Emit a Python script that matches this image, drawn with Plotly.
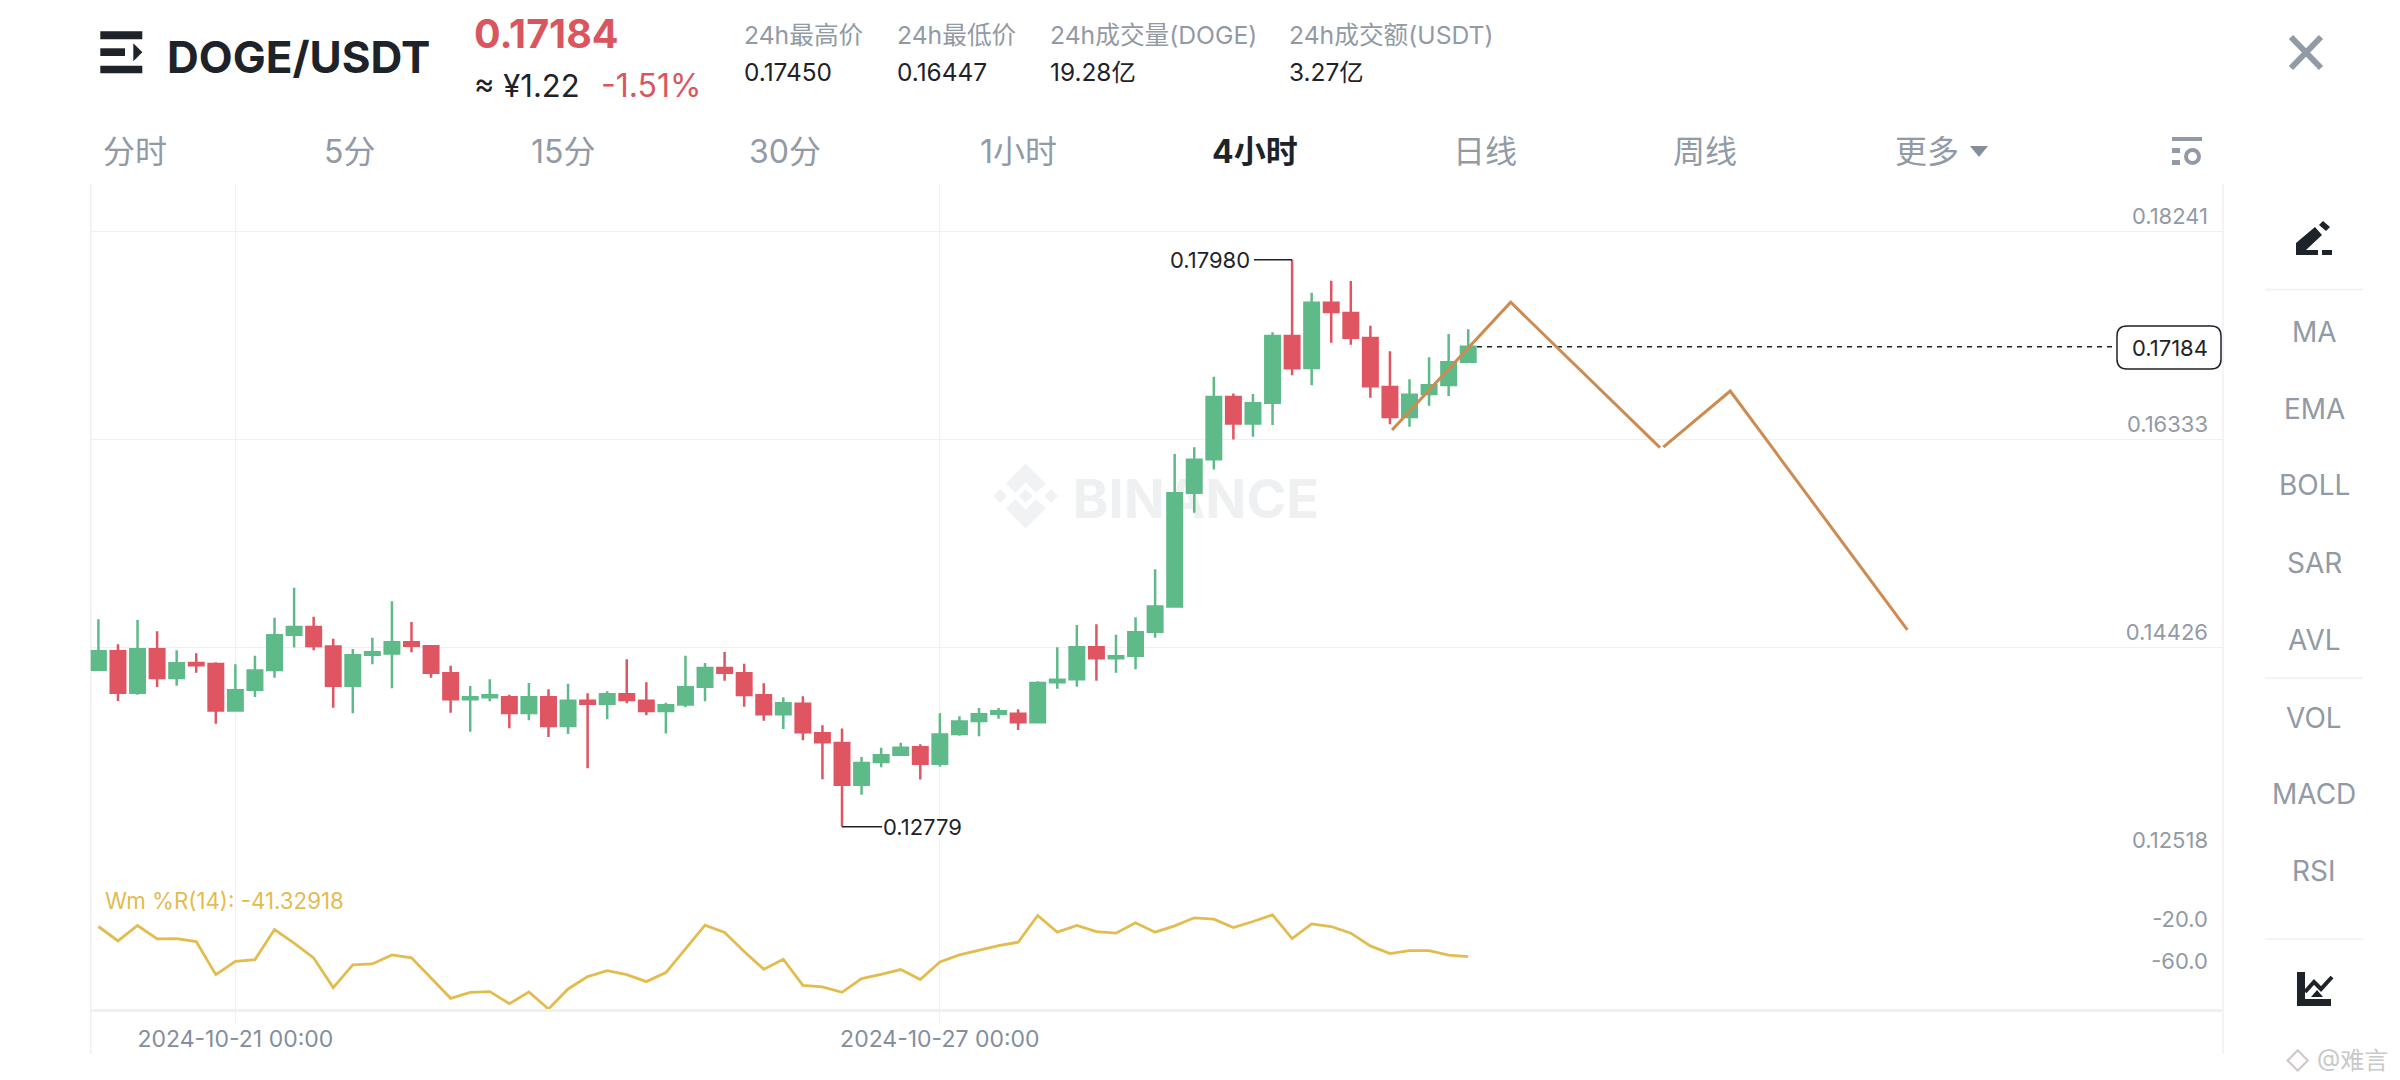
import pandas as pd
import plotly.graph_objects as go

W, H = 2400, 1080
FONT = "Inter, 'Noto Sans CJK SC', sans-serif"
INK = "#1E2329"
GREY = "#929AA5"
RED = "#E05562"
GREEN = "#5EBA89"
GRID = "#EEF0F2"
ORANGE = "#CD8B52"
GOLD = "#E2BC4E"

# ---- data ----
start_time = "2024-10-19 20:00"
opens = [.14221,.14389,.14010,.14407,.14144,.14282,.14273,.13845,.14037,.14218,
         .14542,.14612,.14432,.14074,.14358,.14368,.14472,.14435,.14187,.13949,
         .13967,.13967,.13823,.13967,.13704,.13936,.13909,.13995,.13936,.13842,
         .13900,.14065,.14236,.14187,.13985,.13811,.13909,.13637,.13548,.13166,
         .13374,.13441,.13508,.13358,.13631,.13750,.13817,.13817,.13738,.14105,
         .14132,.14426,.14325,.14349,.14569,.14799,.15844,.16150,.16722,.16480,
         .16670,.17281,.16988,.17587,.17492,.17263,.16814,.16538,.16749,.16832,.17046]
highs = [.14682,.14453,.14676,.14572,.14398,.14371,.14288,.14270,.14349,.14698,
         .14973,.14707,.14505,.14410,.14514,.14848,.14658,.14447,.14257,.14071,
         .14132,.13991,.14098,.14040,.14092,.14004,.14022,.14316,.14105,.13918,
         .14349,.14282,.14383,.14276,.14095,.13967,.13976,.13710,.13680,.13420,
         .13505,.13551,.13536,.13820,.13793,.13869,.13869,.13857,.14114,.14426,
         .14631,.14637,.14542,.14701,.15141,.16199,.16260,.16908,.16755,.16749,
         .17315,.17980,.17679,.17789,.17786,.17376,.17141,.16884,.17086,.17300,.17344]
lows = [.14212,.13933,.13991,.14062,.14074,.14193,.13725,.13835,.13970,.14147,
        .14423,.14398,.13872,.13820,.14270,.14050,.14380,.14147,.13826,.13652,
        .13930,.13683,.13756,.13603,.13631,.13316,.13765,.13912,.13802,.13634,
        .13875,.13930,.14120,.13881,.13753,.13677,.13573,.13215,.12779,.13074,
        .13325,.13435,.13212,.13331,.13615,.13609,.13771,.13667,.13738,.14046,
        .14065,.14120,.14193,.14224,.14514,.14790,.15661,.16058,.16333,.16358,
        .16465,.16921,.16829,.17220,.17202,.16716,.16471,.16450,.16642,.16731,.17037]
closes = [.14389,.14010,.14407,.14144,.14279,.14260,.13845,.14031,.14212,.14536,
          .14612,.14438,.14074,.14352,.14380,.14472,.14441,.14193,.13949,.13967,
          .13985,.13823,.13967,.13704,.13936,.13909,.13995,.13943,.13842,.13894,
          .14059,.14236,.14193,.13988,.13811,.13912,.13646,.13554,.13166,.13365,
          .13435,.13505,.13358,.13625,.13744,.13811,.13839,.13738,.14098,.14129,
          .14426,.14325,.14343,.14563,.14799,.15838,.16147,.16722,.16480,.16664,
          .17281,.16985,.17587,.17502,.17266,.16820,.16538,.16743,.16829,.17040,.17184]
wr_values = [-12.27,-26.16,-11.31,-24.22,-23.90,-26.80,-58.76,-45.85,-44.24,-15.18,
             -28.42,-42.62,-71.35,-49.40,-48.43,-39.72,-42.62,-61.99,-81.69,-75.87,
             -75.23,-86.85,-75.55,-92.02,-72.65,-60.70,-54.89,-58.76,-65.54,-56.83,
             -33.90,-10.98,-18.09,-36.49,-53.60,-43.91,-69.09,-70.71,-75.87,-62.64,
             -58.44,-53.92,-63.61,-46.50,-39.72,-35.52,-30.68,-27.45,-1.62,-17.76,
             -11.31,-17.12,-18.73,-8.72,-17.76,-11.63,-3.88,-5.17,-13.24,-7.43,
             -0.97,-23.90,-9.69,-12.27,-18.73,-31.00,-38.42,-35.52,-35.52,-40.04,-41.33]
drawn_times = ["2024-10-30 20:26","2024-10-31 20:41","2024-11-02 03:12",None,
               "2024-11-02 03:53","2024-11-02 17:34","2024-11-04 05:46"]
drawn_prices = [.16419,.17591,.16257,None,.16262,.16777,.14585]
price_ticks = [.18241,.16333,.14426,.12518]
price_tick_labels = ["0.18241","0.16333","0.14426","0.12518"]
wr_ticks = [-20,-60]
wr_tick_labels = ["-20.0","-60.0"]
time_ticks = ["2024-10-21 00:00","2024-10-27 00:00"]
last_price = .17184
last_line_times = ["2024-10-31 13:48","2024-11-06 00:36"]
high_price, high_line_end = .17980, "2024-10-29 16:12"
low_price, low_line_end = .12779, "2024-10-26 12:12"
high_time, low_time = "2024-10-30 00:00", "2024-10-26 04:00"
x_range = ["2024-10-19 18:25:34","2024-11-06 22:17:00"]
price_range = [.12514,.18676]
wr_range = [-92.3,56.17]
tabs = ["分时","5分","15分","30分","1小时","4小时","日线","周线","更多"]
side_labels = ["MA","EMA","BOLL","SAR","AVL","VOL","MACD","RSI"]

dates = pd.date_range(start_time, periods=len(opens), freq="4h")

# ---- pixel helpers for page furniture ----
px = lambda x: x / W
py = lambda y: 1 - y / H


def path(pts, close=True):
    s = "M" + " L".join(f"{px(x):.5f},{py(y):.5f}" for x, y in pts)
    return s + (" Z" if close else "")


def poly(pts, color, layer="above"):
    return dict(type="path", xref="paper", yref="paper", path=path(pts), layer=layer,
                fillcolor=color, line=dict(width=0))


def seg(x0, y0, x1, y1, color, width=1.5, layer="above"):
    return dict(type="line", xref="paper", yref="paper", x0=px(x0), y0=py(y0), x1=px(x1), y1=py(y1),
                line=dict(color=color, width=width), layer=layer)


def text(x, y, s, size, color, anchor="left", bold=False):
    return dict(xref="paper", yref="paper", x=px(x), y=py(y), text=f"<b>{s}</b>" if bold else s,
                showarrow=False, xanchor=anchor, yanchor="middle", align=anchor,
                font=dict(family=FONT, size=size, color=color))


fig = go.Figure()
fig.add_trace(go.Candlestick(
    x=dates, open=opens, high=highs, low=lows, close=closes, yaxis="y", xaxis="x",
    increasing=dict(line=dict(color=GREEN, width=2.5), fillcolor=GREEN),
    decreasing=dict(line=dict(color=RED, width=2.5), fillcolor=RED),
    whiskerwidth=0, showlegend=False, hoverinfo="skip"))
fig.add_trace(go.Scatter(x=last_line_times, y=[last_price, last_price], mode="lines", yaxis="y",
                         line=dict(color=INK, width=1.5, dash="5px,5px"), showlegend=False, hoverinfo="skip"))
fig.add_trace(go.Scatter(x=[high_line_end, high_time], y=[high_price, high_price], mode="lines", yaxis="y",
                         line=dict(color=INK, width=1.5), showlegend=False, hoverinfo="skip"))
fig.add_trace(go.Scatter(x=[low_time, low_line_end], y=[low_price, low_price], mode="lines", yaxis="y",
                         line=dict(color=INK, width=1.5), showlegend=False, hoverinfo="skip"))
fig.add_trace(go.Scatter(x=drawn_times, y=drawn_prices, mode="lines", yaxis="y",
                         line=dict(color=ORANGE, width=3), showlegend=False, hoverinfo="skip"))
fig.add_trace(go.Scatter(x=dates, y=wr_values, mode="lines", yaxis="y2",
                         line=dict(color=GOLD, width=2.8), showlegend=False, hoverinfo="skip"))

shapes = []
# watermark, under the candles
cx, cy = 1025.7, 496
chev = [(0, -32.5), (20, -12.5), (10.5, -3), (0, -13.5), (-10.5, -3), (-20, -12.5)]
shapes.append(poly([(cx + a, cy + b) for a, b in chev], "#F1F2F3", "below"))
shapes.append(poly([(cx + a, cy - b) for a, b in chev], "#F1F2F3", "below"))
for dx in (-25.5, 0, 25.5):
    shapes.append(poly([(cx + dx, cy - 7), (cx + dx + 7, cy), (cx + dx, cy + 7), (cx + dx - 7, cy)], "#F1F2F3", "below"))
shapes.append(dict(type="rect", xref="paper", yref="paper", x0=px(1056), x1=px(1336), y0=py(466), y1=py(526),
                   layer="below", line=dict(width=0), fillcolor="rgba(0,0,0,0)",
                   label=dict(text="<b>BINANCE</b>", textposition="middle center",
                              font=dict(family="Inter", size=54, color="#EEF0F1"))))
# plot borders
shapes.append(seg(90.7, 184, 90.7, 1054, GRID, 1.5, "below"))
shapes.append(seg(2223, 184, 2223, 1054, GRID, 1.5, "below"))
# header logo
for x0, x1, y0, y1 in ((100.3, 142.3, 31.3, 39.3), (100.3, 125, 48.3, 56), (100.3, 142.3, 65.7, 73.3)):
    shapes.append(poly([(x0, y0), (x1, y0), (x1, y1), (x0, y1)], INK))
shapes.append(poly([(133.3, 43.3), (142.3, 52.3), (133.3, 61.3)], INK))
# close cross
shapes.append(seg(2291, 37, 2321, 68, GREY, 6))
shapes.append(seg(2321, 37, 2291, 68, GREY, 6))
# tab triangle
shapes.append(poly([(1970, 146), (1988, 146), (1979, 157)], "#848E9C"))
# settings icon
shapes.append(poly([(2172, 137), (2202, 137), (2202, 141), (2172, 141)], GREY))
shapes.append(poly([(2172, 148), (2180, 148), (2180, 153), (2172, 153)], GREY))
shapes.append(poly([(2172, 160), (2180, 160), (2180, 165), (2172, 165)], GREY))
shapes.append(dict(type="circle", xref="paper", yref="paper", x0=px(2186), x1=px(2199), y0=py(150), y1=py(163),
                   line=dict(color=GREY, width=4)))
# side separators
for yy in (289.6, 678, 939):
    shapes.append(seg(2265, yy, 2363, yy, GRID, 1.5))
# pencil icon
shapes.append(poly([(2296, 255), (2296, 243), (2315, 227), (2322, 235), (2306, 250), (2318, 250), (2318, 255)], INK))
shapes.append(poly([(2319, 225), (2323, 221), (2330, 227), (2326, 231)], INK))
shapes.append(poly([(2322, 250), (2332, 250), (2332, 255), (2322, 255)], INK))
# chart icon
shapes.append(poly([(2297, 972), (2305, 972), (2305, 999), (2331, 999), (2331, 1006), (2297, 1006)], INK))
shapes.append(dict(type="path", xref="paper", yref="paper",
                   path=path([(2305, 992), (2314, 982), (2321, 989), (2332, 977)], close=False),
                   line=dict(color=INK, width=4)))
shapes.append(poly([(2311, 997), (2317, 990), (2323, 997)], INK))
# last-price label box
x0, x1, y0, y1, r = 2117, 2221, 326, 369, 10
box = (f"M{px(x0 + r):.5f},{py(y0):.5f} L{px(x1 - r):.5f},{py(y0):.5f} "
       f"Q{px(x1):.5f},{py(y0):.5f} {px(x1):.5f},{py(y0 + r):.5f} L{px(x1):.5f},{py(y1 - r):.5f} "
       f"Q{px(x1):.5f},{py(y1):.5f} {px(x1 - r):.5f},{py(y1):.5f} L{px(x0 + r):.5f},{py(y1):.5f} "
       f"Q{px(x0):.5f},{py(y1):.5f} {px(x0):.5f},{py(y1 - r):.5f} L{px(x0):.5f},{py(y0 + r):.5f} "
       f"Q{px(x0):.5f},{py(y0):.5f} {px(x0 + r):.5f},{py(y0):.5f} Z")
shapes.append(dict(type="path", xref="paper", yref="paper", path=box, fillcolor="white",
                   line=dict(color=INK, width=1.5)))

ann = [
    text(165, 57, "DOGE/USDT", 44, INK, bold=True),
    text(472, 34, "0.17184", 39.5, "#D9565F", bold=True),
    text(472, 86, "≈ ¥1.22", 31, INK),
    text(599, 86, "-1.51%", 32, "#D9565F"),
    text(742, 35, "24h最高价", 24.7, GREY), text(742, 72, "0.17450", 24.4, INK),
    text(895, 35, "24h最低价", 24.7, GREY), text(895, 72, "0.16447", 24.4, INK),
    text(1048, 35, "24h成交量(DOGE)", 24.7, GREY), text(1048, 72, "19.28亿", 24.4, INK),
    text(1287, 35, "24h成交额(USDT)", 24.7, GREY), text(1287, 72, "3.27亿", 24.4, INK),
    text(103, 900, "Wm %R(14): -41.32918", 22.3, GOLD),
    text(2210, 347.5, "0.17184", 22, INK, anchor="right"),
    text(2390, 1060, "◇ @难言", 24, "#C9C9C9", anchor="right"),
]
tab_x = [135, 349, 563, 785, 1018, 1255, 1485, 1705, 1927]
for tx, lab in zip(tab_x, tabs):
    sel = lab == "4小时"
    ann.append(text(tx, 152, lab, 32, INK if sel else GREY, anchor="center", bold=sel))
side_y = [332, 409, 485, 563, 640, 718, 794, 871]
for sy, lab in zip(side_y, side_labels):
    ann.append(text(2314, sy, lab, 28, GREY, anchor="center"))
ann.append(dict(xref="x", yref="y", x=high_line_end, y=high_price, text="0.17980", showarrow=False, xanchor="right",
                yanchor="middle", xshift=-2, font=dict(family=FONT, size=22, color=INK)))
ann.append(dict(xref="x", yref="y", x=low_line_end, y=low_price, text="0.12779", showarrow=False, xanchor="left",
                yanchor="middle", xshift=-1, font=dict(family=FONT, size=22, color=INK)))

tick_font = dict(family=FONT, size=22, color=GREY)
fig.update_layout(
    width=W, height=H, margin=dict(l=0, r=0, t=0, b=0), paper_bgcolor="white", plot_bgcolor="rgba(0,0,0,0)",
    showlegend=False, shapes=shapes, annotations=ann, boxgap=0.26, boxgroupgap=0,
    xaxis=dict(domain=[px(90.7), px(2223)], range=x_range, type="date", anchor="y2", rangeslider=dict(visible=False),
               tickmode="array", tickvals=time_ticks, ticktext=[t for t in time_ticks],
               showgrid=True, gridcolor=GRID, gridwidth=1.2, ticks="outside", ticklen=13, tickcolor=GRID, tickwidth=1.2,
               showline=True, linecolor=GRID, linewidth=3, tickfont=dict(family=FONT, size=23, color="#848E9C"),
               zeroline=False, ticklabelstandoff=-6),
    yaxis=dict(domain=[py(855.7), py(184)], range=price_range, side="right", anchor="x",
               tickmode="array", tickvals=price_ticks, ticktext=price_tick_labels,
               showgrid=True, gridcolor=GRID, gridwidth=1.2, zeroline=False, showline=False,
               ticks="", ticklabelposition="inside", tickfont=tick_font, ticklabelshift=-15, ticklabelstandoff=12),
    yaxis2=dict(domain=[py(1009.3), py(855.7)], range=wr_range, side="right", anchor="x",
                tickmode="array", tickvals=wr_ticks, ticktext=wr_tick_labels,
                showgrid=False, zeroline=False, showline=False,
                ticks="", ticklabelposition="inside", tickfont=tick_font, ticklabelshift=-15, ticklabelstandoff=12),
)
fig.write_html("out.html", config=dict(displayModeBar=False),
               post_script="document.body.style.margin='0';")
